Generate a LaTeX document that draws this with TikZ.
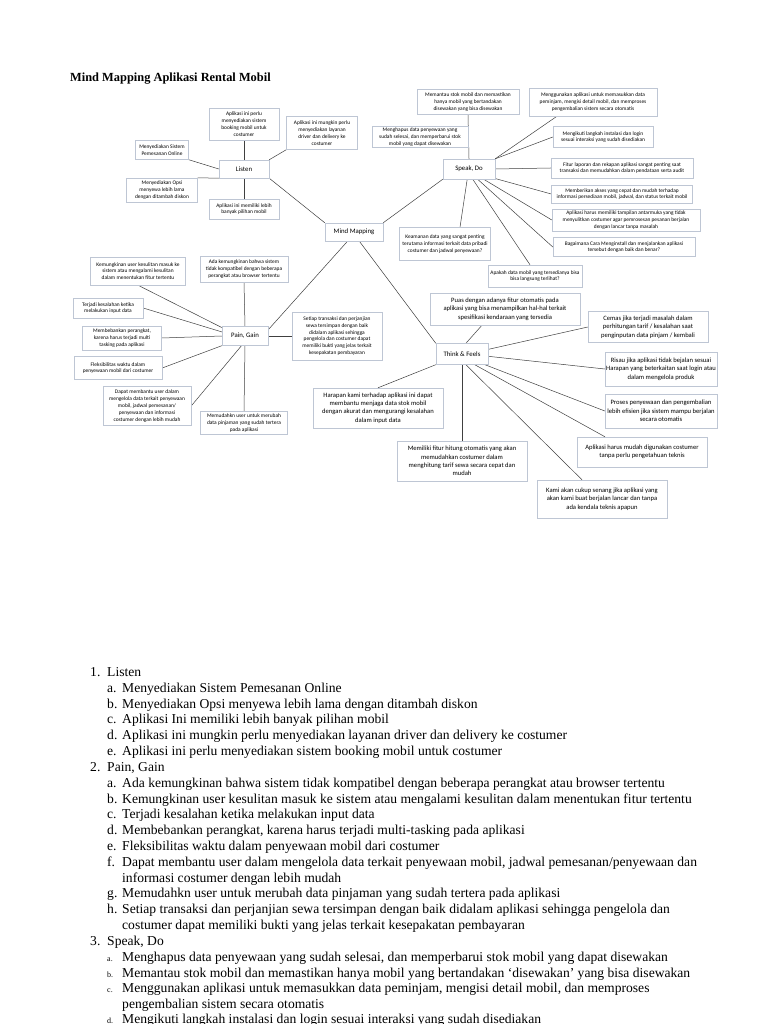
\documentclass[tikz,border=0pt]{standalone}
\usepackage{fontspec}
\setmainfont{Liberation Serif}
\newfontfamily\calibri{Carlito}
\usetikzlibrary{shadows, backgrounds}

\definecolor{boxline}{RGB}{190,198,212}
\newcommand{\leaffont}{\calibri\fontsize{5.4}{6.8}\selectfont}
\newcommand{\feelfont}{\calibri\fontsize{6.6}{8.4}\selectfont}
\newcommand{\hubfont}{\calibri\fontsize{6.8}{8}\selectfont}
\newcommand{\listfont}{\fontsize{13.6}{16}\selectfont}
\newcommand{\num}[1]{\makebox[17pt][l]{#1}}
\newcommand{\lett}[1]{\makebox[15pt][l]{#1}}
\newcommand{\slett}[1]{\makebox[15pt][l]{\fontsize{8}{8}\selectfont #1}}

\begin{document}
\begin{tikzpicture}[
  x=1pt, y=-1pt,
  hub/.style={
    rectangle,
    draw=boxline,
    fill=white,
    font=\hubfont,
    align=center,
    inner sep=1pt,
    drop shadow={shadow xshift=0.7pt, shadow yshift=-0.7pt, fill=black!40, opacity=0.25}
  },
  leaf/.style={hub, font=\leaffont},
  feel/.style={hub, font=\feelfont},
  link/.style={draw=black!75, line width=0.5pt},
  row/.style={anchor=base west, inner sep=0pt, font=\listfont}
]
\clip (0,0) rectangle (768,1024);

% Title
\node[anchor=base west, inner sep=0pt, font=\bfseries\fontsize{12.4}{14}\selectfont] (title) at (70,82) {Mind Mapping Aplikasi Rental Mobil};

% Centre
\node[hub, minimum width=58, minimum height=18] (mind) at (354,232) {Mind Mapping};

% Listen
\node[hub, minimum width=50, minimum height=18] (listen) at (244,169) {Listen};
\node[leaf, minimum width=70, minimum height=32] (booking) at (244,124) {Aplikasi ini perlu\\menyediakan sistem\\booking mobil untuk\\costumer};
\node[leaf, minimum width=71, minimum height=33] (driver) at (322,133) {Aplikasi ini mungkin perlu\\menyediakan layanan\\driver dan delivery ke\\costumer};
\node[leaf, minimum width=53, minimum height=19] (pemesanan) at (162,150) {Menyediakan Sistem\\Pemesanan Online};
\node[leaf, minimum width=71, minimum height=24] (opsi) at (162,190) {Menyediakan Opsi\\menyewa lebih lama\\dengan ditambah diskon};
\node[leaf, minimum width=70, minimum height=20] (pilihan) at (244,209) {Aplikasi ini memiliki lebih\\banyak pilihan mobil};

% Speak, Do
\node[hub, minimum width=52, minimum height=20] (speak) at (469,169) {Speak, Do};
\node[leaf, minimum width=102, minimum height=25] (memantau) at (468,102) {Memantau stok mobil dan memastikan\\hanya mobil yang bertandakan\\disewakan yang bisa disewakan};
\node[leaf, minimum width=128, minimum height=28] (menggunakan) at (593,102) {Menggunakan aplikasi untuk memasukkan data\\peminjam, mengisi detail mobil, dan memproses\\pengembalian sistem secara otomatis};
\node[leaf, minimum width=96, minimum height=21] (menghapus) at (420,137) {Menghapus data penyewaan yang\\sudah selesai, dan memperbarui stok\\mobil yang dapat disewakan};
\node[leaf, minimum width=100, minimum height=21] (mengikuti) at (603,137) {Mengikuti langkah instalasi dan login\\sesuai interaksi yang sudah disediakan};
\node[leaf, minimum width=142, minimum height=20] (fitur) at (622,168) {Fitur laporan dan rekapan aplikasi sangat penting saat\\transaksi dan memudahkan dalam pendataan serta audit};
\node[leaf, minimum width=141, minimum height=18] (memberikan) at (622,194) {Memberikan akses yang cepat dan mudah terhadap\\informasi persediaan mobil, jadwal, dan status terkait mobil};
\node[leaf, minimum width=148, minimum height=22] (tampilan) at (626,220) {Aplikasi harus memiliki tampilan antarmuka yang tidak\\menyulitkan costumer agar pemrosesan pesanan berjalan\\dengan lancar tanpa masalah};
\node[leaf, minimum width=142, minimum height=19] (bagaimana) at (624,247) {Bagaimana Cara Menginstall dan menjalankan aplikasi\\tersebut dengan baik dan benar?};
\node[leaf, minimum width=91, minimum height=33] (keamanan) at (445,244) {Keamanan data yang sangat penting\\terutama informasi terkait data pribadi\\costumer dan jadwal penyewaan?};
\node[leaf, minimum width=94, minimum height=22] (apakah) at (535,276) {Apakah data mobil yang tersedianya bisa\\bisa langsung terlihat?};

% Pain, Gain
\node[hub, minimum width=46, minimum height=19] (pain) at (245,336) {Pain, Gain};
\node[leaf, minimum width=88, minimum height=26] (ada) at (244,269) {Ada kemungkinan bahwa sistem\\tidak kompatibel dengan beberapa\\perangkat atau browser tertentu};
\node[leaf, minimum width=95, minimum height=28] (kemungkinan) at (138,271) {Kemungkinan user kesulitan masuk ke\\sistem atau mengalami kesulitan\\dalam menentukan fitur tertentu};
\node[leaf, minimum width=70, minimum height=20] (terjadi) at (108,308) {Terjadi kesalahan ketika\\melakukan input data};
\node[leaf, minimum width=79, minimum height=24] (membebankan) at (122,338) {Membebankan perangkat,\\karena harus terjadi multi\\tasking pada aplikasi};
\node[leaf, minimum width=88, minimum height=23] (fleksibilitas) at (118,368) {Fleksibilitas waktu dalam\\penyewaan mobil dari costumer};
\node[leaf, minimum width=88, minimum height=39] (dapat) at (147,406) {Dapat membantu user dalam\\mengelola data terkait penyewaan\\mobil, jadwal pemesanan/\\penyewaan dan informasi\\costumer dengan lebih mudah};
\node[leaf, minimum width=87, minimum height=23] (memudahkn) at (244,423) {Memudahkn user untuk merubah\\data pinjaman yang sudah tertera\\pada aplikasi};
\node[leaf, minimum width=90, minimum height=48] (setiap) at (337,336) {Setiap transaksi dan perjanjian\\sewa tersimpan dengan baik\\didalam aplikasi sehingga\\pengelola dan costumer dapat\\memiliki bukti yang jelas terkait\\kesepakatan pembayaran};

% Think & Feels
\node[hub, minimum width=52, minimum height=21] (think) at (462,354) {Think \& Feels};
\node[feel, minimum width=150, minimum height=32] (puas) at (505,309) {Puas dengan adanya fitur otomatis pada\\aplikasi yang bisa menampilkan hal-hal terkait\\spesifikasi kendaraan yang tersedia};
\node[feel, minimum width=120, minimum height=31] (cemas) at (648,327) {Cemas jika terjadi masalah dalam\\perhitungan tarif / kesalahan saat\\penginputan data pinjam / kembali};
\node[feel, minimum width=112, minimum height=34] (risau) at (661,369) {Risau jika aplikasi tidak bejalan sesuai\\Harapan yang beterkaitan saat login atau\\dalam mengelola produk};
\node[feel, minimum width=112, minimum height=34] (proses) at (661,411) {Proses penyewaan dan pengembalian\\lebih efisien jika sistem mampu berjalan\\secara otomatis};
\node[feel, minimum width=130, minimum height=30] (mudah) at (642,452) {Aplikasi harus mudah digunakan costumer\\tanpa perlu pengetahuan teknis};
\node[feel, minimum width=130, minimum height=38] (senang) at (602,499) {Kami akan cukup senang jika aplikasi yang\\akan kami buat berjalan lancar dan tanpa\\ada kendala teknis apapun};
\node[feel, minimum width=130, minimum height=40] (hitung) at (462,461) {Memiliki fitur hitung otomatis yang akan\\memudahkan costumer dalam\\menghitung tarif sewa secara cepat dan\\mudah};
\node[feel, minimum width=130, minimum height=40] (harapan) at (378,408) {Harapan kami terhadap aplikasi ini dapat\\membantu menjaga data stok mobil\\dengan akurat dan mengurangi kesalahan\\dalam input data};

% Connectors
\begin{scope}[on background layer]
\fill[white] (0,0) rectangle (768,1024);
\draw[link] (mind.north west) -- (listen.south east);
\draw[link] (mind.north east) -- (speak.south west);
\draw[link] (mind.-125) -- (pain.15);
\draw[link] (mind.-60) -- (think.north west);

\draw[link] (listen.north) -- (booking.south);
\draw[link] (listen.north east) -- (driver.south west);
\draw[link] (listen.west) -- (pemesanan.south east);
\draw[link] (listen.south west) -- (opsi.north east);
\draw[link] (listen.south) -- (pilihan.north);

\draw[link] (speak.north) -- (memantau.south);
\draw[link] (speak.north east) -- ([xshift=-36pt]menggunakan.south);
\draw[link] (speak.north east) -- (mengikuti.west);
\draw[link] (speak.east) -- (fitur.west);
\draw[link] (speak.-20) -- (memberikan.west);
\draw[link] (speak.-35) -- (tampilan.west);
\draw[link] (speak.-50) -- (bagaimana.west);
\draw[link] (speak.-70) -- ([xshift=-5pt]apakah.north);
\draw[link] (speak.-100) -- ([xshift=15pt]keamanan.north);

\draw[link] (pain.north) -- (ada.south);
\draw[link] (pain.160) -- (kemungkinan.south);
\draw[link] (pain.170) -- (terjadi.east);
\draw[link] (pain.west) -- (membebankan.east);
\draw[link] (pain.south west) -- (fleksibilitas.east);
\draw[link] (pain.-110) -- (dapat.east);
\draw[link] (pain.south) -- (memudahkn.north);
\draw[link] (pain.east) -- (setiap.west);

\draw[link] (think.70) -- ([xshift=-23pt]puas.south);
\draw[link] (think.10) -- (cemas.west);
\draw[link] (think.-5) -- (risau.west);
\draw[link] (think.-25) -- (proses.west);
\draw[link] (think.-40) -- ([xshift=-37pt]mudah.north);
\draw[link] (think.-70) -- ([xshift=-20pt]senang.north);
\draw[link] (think.south) -- (hitung.north);
\draw[link] (think.south west) -- (harapan.north);
\end{scope}

% Text below
\node[row] (row1) at (90,676) {\num{1.}Listen};
\node[row] (row2) at (107,692) {\lett{a.}Menyediakan Sistem Pemesanan Online};
\node[row] (row3) at (107,708) {\lett{b.}Menyediakan Opsi menyewa lebih lama dengan ditambah diskon};
\node[row] (row4) at (107,723) {\lett{c.}Aplikasi Ini memiliki lebih banyak pilihan mobil};
\node[row] (row5) at (107,739) {\lett{d.}Aplikasi ini mungkin perlu menyediakan layanan driver dan delivery ke costumer};
\node[row] (row6) at (107,755) {\lett{e.}Aplikasi ini perlu menyediakan sistem booking mobil untuk costumer};
\node[row] (row7) at (90,771) {\num{2.}Pain, Gain};
\node[row] (row8) at (107,787) {\lett{a.}Ada kemungkinan bahwa sistem tidak kompatibel dengan beberapa perangkat atau browser tertentu};
\node[row] (row9) at (107,803) {\lett{b.}Kemungkinan user kesulitan masuk ke sistem atau mengalami kesulitan dalam menentukan fitur tertentu};
\node[row] (row10) at (107,818) {\lett{c.}Terjadi kesalahan ketika melakukan input data};
\node[row] (row11) at (107,834) {\lett{d.}Membebankan perangkat, karena harus terjadi multi-tasking pada aplikasi};
\node[row] (row12) at (107,850) {\lett{e.}Fleksibilitas waktu dalam penyewaan mobil dari costumer};
\node[row] (row13) at (107,866) {\lett{f.}Dapat membantu user dalam mengelola data terkait penyewaan mobil, jadwal pemesanan/penyewaan dan};
\node[row] (row14) at (122,882) {informasi costumer dengan lebih mudah};
\node[row] (row15) at (107,897) {\lett{g.}Memudahkn user untuk merubah data pinjaman yang sudah tertera pada aplikasi};
\node[row] (row16) at (107,913) {\lett{h.}Setiap transaksi dan perjanjian sewa tersimpan dengan baik didalam aplikasi sehingga pengelola dan};
\node[row] (row17) at (122,929) {costumer dapat memiliki bukti yang jelas terkait kesepakatan pembayaran};
\node[row] (row18) at (90,945) {\num{3.}Speak, Do};
\node[row] (row19) at (107,961) {\slett{a.}Menghapus data penyewaan yang sudah selesai, dan memperbarui stok mobil yang dapat disewakan};
\node[row] (row20) at (107,977) {\slett{b.}Memantau stok mobil dan memastikan hanya mobil yang bertandakan ‘disewakan’ yang bisa disewakan};
\node[row] (row21) at (107,992) {\slett{c.}Menggunakan aplikasi untuk memasukkan data peminjam, mengisi detail mobil, dan memproses};
\node[row] (row22) at (122,1008) {pengembalian sistem secara otomatis};
\node[row] (row23) at (107,1023) {\slett{d.}Mengikuti langkah instalasi dan login sesuai interaksi yang sudah disediakan};

\end{tikzpicture}
\end{document}
